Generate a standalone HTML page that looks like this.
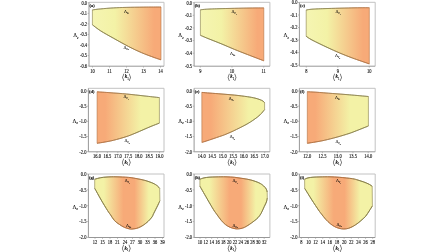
<!DOCTYPE html>
<html lang="en"><head><meta charset="utf-8"><title>Phase diagrams</title>
<style>html,body{margin:0;padding:0;background:#fff;}body{width:448px;height:252px;overflow:hidden;}svg{display:block;}text{font-family:"Liberation Serif","DejaVu Serif",serif;fill:#000;stroke:#000;stroke-width:0.1px;}text.br{font-family:"DejaVu Sans",sans-serif;fill:#666;stroke:none;}</style></head><body>
<svg width="448" height="252" viewBox="0 0 448 252">
<rect width="448" height="252" fill="#fff"/>
<defs>
<linearGradient id="ga" gradientUnits="userSpaceOnUse" x1="92.4" y1="0" x2="161" y2="0"><stop offset="0" stop-color="#f5f5b2"/><stop offset="0.33" stop-color="#f3f2a6"/><stop offset="0.9" stop-color="#f7aa78"/><stop offset="1" stop-color="#f7aa78"/></linearGradient>
<linearGradient id="sa" gradientUnits="userSpaceOnUse" x1="92.4" y1="0" x2="161" y2="0"><stop offset="0" stop-color="#867e48"/><stop offset="0.33" stop-color="#867e48"/><stop offset="0.9" stop-color="#b27040"/><stop offset="1" stop-color="#b27040"/></linearGradient>
<linearGradient id="gb" gradientUnits="userSpaceOnUse" x1="200.4" y1="0" x2="263.8" y2="0"><stop offset="0" stop-color="#f5f5b2"/><stop offset="0.33" stop-color="#f3f2a6"/><stop offset="0.9" stop-color="#f7aa78"/><stop offset="1" stop-color="#f7aa78"/></linearGradient>
<linearGradient id="sb" gradientUnits="userSpaceOnUse" x1="200.4" y1="0" x2="263.8" y2="0"><stop offset="0" stop-color="#867e48"/><stop offset="0.33" stop-color="#867e48"/><stop offset="0.9" stop-color="#b27040"/><stop offset="1" stop-color="#b27040"/></linearGradient>
<linearGradient id="gc" gradientUnits="userSpaceOnUse" x1="306.2" y1="0" x2="369.3" y2="0"><stop offset="0" stop-color="#f5f5b2"/><stop offset="0.33" stop-color="#f3f2a6"/><stop offset="0.9" stop-color="#f7aa78"/><stop offset="1" stop-color="#f7aa78"/></linearGradient>
<linearGradient id="sc" gradientUnits="userSpaceOnUse" x1="306.2" y1="0" x2="369.3" y2="0"><stop offset="0" stop-color="#867e48"/><stop offset="0.33" stop-color="#867e48"/><stop offset="0.9" stop-color="#b27040"/><stop offset="1" stop-color="#b27040"/></linearGradient>
<linearGradient id="gd" gradientUnits="userSpaceOnUse" x1="97.1" y1="0" x2="159.4" y2="0"><stop offset="0" stop-color="#f7aa78"/><stop offset="0.13" stop-color="#f7aa78"/><stop offset="0.7" stop-color="#f3f2a6"/><stop offset="1" stop-color="#f3f2a6"/></linearGradient>
<linearGradient id="sd" gradientUnits="userSpaceOnUse" x1="97.1" y1="0" x2="159.4" y2="0"><stop offset="0" stop-color="#b27040"/><stop offset="0.13" stop-color="#b27040"/><stop offset="0.7" stop-color="#867e48"/><stop offset="1" stop-color="#867e48"/></linearGradient>
<linearGradient id="ge" gradientUnits="userSpaceOnUse" x1="201.9" y1="0" x2="264.6" y2="0"><stop offset="0" stop-color="#f7aa78"/><stop offset="0.14" stop-color="#f7aa78"/><stop offset="0.75" stop-color="#f3f2a6"/><stop offset="1" stop-color="#f3f2a6"/></linearGradient>
<linearGradient id="se" gradientUnits="userSpaceOnUse" x1="201.9" y1="0" x2="264.6" y2="0"><stop offset="0" stop-color="#b27040"/><stop offset="0.14" stop-color="#b27040"/><stop offset="0.75" stop-color="#867e48"/><stop offset="1" stop-color="#867e48"/></linearGradient>
<linearGradient id="gf" gradientUnits="userSpaceOnUse" x1="307.3" y1="0" x2="368.4" y2="0"><stop offset="0" stop-color="#f7aa78"/><stop offset="0.13" stop-color="#f7aa78"/><stop offset="0.7" stop-color="#f3f2a6"/><stop offset="1" stop-color="#f3f2a6"/></linearGradient>
<linearGradient id="sf" gradientUnits="userSpaceOnUse" x1="307.3" y1="0" x2="368.4" y2="0"><stop offset="0" stop-color="#b27040"/><stop offset="0.13" stop-color="#b27040"/><stop offset="0.7" stop-color="#867e48"/><stop offset="1" stop-color="#867e48"/></linearGradient>
<linearGradient id="gg" gradientUnits="userSpaceOnUse" x1="94.7" y1="0" x2="160" y2="0"><stop offset="0" stop-color="#f3f2a6"/><stop offset="0.14" stop-color="#f3f2a6"/><stop offset="0.44" stop-color="#f7aa78"/><stop offset="0.61" stop-color="#f7aa78"/><stop offset="0.83" stop-color="#f3f2a6"/><stop offset="1" stop-color="#f3f2a6"/></linearGradient>
<linearGradient id="sg" gradientUnits="userSpaceOnUse" x1="94.7" y1="0" x2="160" y2="0"><stop offset="0" stop-color="#867e48"/><stop offset="0.14" stop-color="#867e48"/><stop offset="0.44" stop-color="#b27040"/><stop offset="0.61" stop-color="#b27040"/><stop offset="0.83" stop-color="#867e48"/><stop offset="1" stop-color="#867e48"/></linearGradient>
<linearGradient id="gh" gradientUnits="userSpaceOnUse" x1="199.9" y1="0" x2="267.3" y2="0"><stop offset="0" stop-color="#f3f2a6"/><stop offset="0.14" stop-color="#f3f2a6"/><stop offset="0.44" stop-color="#f7aa78"/><stop offset="0.61" stop-color="#f7aa78"/><stop offset="0.83" stop-color="#f3f2a6"/><stop offset="1" stop-color="#f3f2a6"/></linearGradient>
<linearGradient id="sh" gradientUnits="userSpaceOnUse" x1="199.9" y1="0" x2="267.3" y2="0"><stop offset="0" stop-color="#867e48"/><stop offset="0.14" stop-color="#867e48"/><stop offset="0.44" stop-color="#b27040"/><stop offset="0.61" stop-color="#b27040"/><stop offset="0.83" stop-color="#867e48"/><stop offset="1" stop-color="#867e48"/></linearGradient>
<linearGradient id="gi" gradientUnits="userSpaceOnUse" x1="304.6" y1="0" x2="372.4" y2="0"><stop offset="0" stop-color="#f3f2a6"/><stop offset="0.13" stop-color="#f3f2a6"/><stop offset="0.43" stop-color="#f7aa78"/><stop offset="0.59" stop-color="#f7aa78"/><stop offset="0.82" stop-color="#f3f2a6"/><stop offset="1" stop-color="#f3f2a6"/></linearGradient>
<linearGradient id="si" gradientUnits="userSpaceOnUse" x1="304.6" y1="0" x2="372.4" y2="0"><stop offset="0" stop-color="#867e48"/><stop offset="0.13" stop-color="#867e48"/><stop offset="0.43" stop-color="#b27040"/><stop offset="0.59" stop-color="#b27040"/><stop offset="0.82" stop-color="#867e48"/><stop offset="1" stop-color="#867e48"/></linearGradient>
</defs>
<g id="panel-a">
<path d="M92.40,9.90 C93.78,9.73 97.20,9.23 100.70,8.90 C104.20,8.57 109.17,8.15 113.40,7.90 C117.63,7.65 121.02,7.53 126.10,7.40 C131.18,7.27 138.08,7.17 143.90,7.10 C149.72,7.03 158.15,7.02 161.00,7.00 L161.00,59.80 C159.85,59.42 157.37,58.70 154.10,57.50 C150.83,56.30 145.63,54.42 141.40,52.60 C137.17,50.78 133.37,49.00 128.70,46.60 C124.03,44.20 118.07,40.82 113.40,38.20 C108.73,35.58 104.20,33.13 100.70,30.90 C97.20,28.67 93.78,25.82 92.40,24.80 Z" fill="url(#ga)" stroke="url(#sa)" stroke-width="0.6" stroke-linejoin="round"/>
<path d="M92.40,9.90 C93.78,9.73 97.20,9.23 100.70,8.90 C104.20,8.57 109.17,8.15 113.40,7.90 C117.63,7.65 121.02,7.53 126.10,7.40 C131.18,7.27 138.08,7.17 143.90,7.10 C149.72,7.03 158.15,7.02 161.00,7.00" fill="none" stroke="url(#sa)" stroke-width="0.65" stroke-linejoin="round"/>
<path d="M161.00,59.80 C159.85,59.42 157.37,58.70 154.10,57.50 C150.83,56.30 145.63,54.42 141.40,52.60 C137.17,50.78 133.37,49.00 128.70,46.60 C124.03,44.20 118.07,40.82 113.40,38.20 C108.73,35.58 104.20,33.13 100.70,30.90 C97.20,28.67 93.78,25.82 92.40,24.80" fill="none" stroke="url(#sa)" stroke-width="0.8" stroke-linejoin="round"/>
<path d="M89,2.3 H164 V66.2" fill="none" stroke="#c2c2c2" stroke-width="1"/>
<path d="M89,2.3 V66.2 H164" fill="none" stroke="#979797" stroke-width="1"/>
<path d="M92.50,66.2 v1.4 M109.50,66.2 v1.4 M126.50,66.2 v1.4 M143.50,66.2 v1.4 M160.50,66.2 v1.4 M89,2.80 h-1.4 M89,13.35 h-1.4 M89,23.90 h-1.4 M89,34.45 h-1.4 M89,45.00 h-1.4 M89,55.55 h-1.4 M89,66.10 h-1.4" stroke="#979797" stroke-width="0.6" fill="none"/>
<text transform="translate(92.50 72.80) scale(0.8 1)" font-size="5.6" text-anchor="middle">10</text>
<text transform="translate(109.50 72.80) scale(0.8 1)" font-size="5.6" text-anchor="middle">11</text>
<text transform="translate(126.50 72.80) scale(0.8 1)" font-size="5.6" text-anchor="middle">12</text>
<text transform="translate(143.50 72.80) scale(0.8 1)" font-size="5.6" text-anchor="middle">13</text>
<text transform="translate(160.50 72.80) scale(0.8 1)" font-size="5.6" text-anchor="middle">14</text>
<text transform="translate(87.00 4.65) scale(0.8 1)" font-size="5.6" text-anchor="end">0.0</text>
<text transform="translate(87.00 15.20) scale(0.8 1)" font-size="5.6" text-anchor="end">-0.1</text>
<text transform="translate(87.00 25.75) scale(0.8 1)" font-size="5.6" text-anchor="end">-0.2</text>
<text transform="translate(87.00 36.30) scale(0.8 1)" font-size="5.6" text-anchor="end">-0.3</text>
<text transform="translate(87.00 46.85) scale(0.8 1)" font-size="5.6" text-anchor="end">-0.4</text>
<text transform="translate(87.00 57.40) scale(0.8 1)" font-size="5.6" text-anchor="end">-0.5</text>
<text transform="translate(87.00 67.95) scale(0.8 1)" font-size="5.6" text-anchor="end">-0.6</text>
<text class="br" transform="translate(121.30 79.50) scale(1.2 1)" font-size="8.2">⟨</text>
<text transform="translate(125.95 78.30) scale(0.72 1)" font-size="6.8" font-style="italic" font-weight="bold" text-anchor="middle" stroke-width="0.1">k</text>
<text transform="translate(127.95 79.60) scale(0.72 1)" font-size="4.4" text-anchor="middle">1</text>
<text class="br" transform="translate(128.10 79.50) scale(1.2 1)" font-size="8.2">⟩</text>
<text transform="translate(75.80 37.25) scale(0.76 1)" font-size="7.1" text-anchor="middle">Λ<tspan font-size="4.2" dy="1.4" font-style="italic">e</tspan></text>
<text x="89.60" y="7.10" font-size="4.4" font-weight="bold">(a)</text>
<text transform="translate(126.50 12.50) scale(0.85 1)" font-size="4.9" text-anchor="middle">Λ<tspan font-size="3.1" dy="1.0" font-style="italic">c</tspan><tspan font-size="2.2" dy="0.5">1</tspan></text>
<text transform="translate(126.00 48.70) scale(0.85 1)" font-size="4.9" text-anchor="middle">Λ<tspan font-size="3.1" dy="1.0" font-style="italic">c</tspan><tspan font-size="2.2" dy="0.5">2</tspan></text>
</g>
<g id="panel-b">
<path d="M200.40,9.80 C201.43,9.70 203.50,9.38 206.60,9.20 C209.70,9.02 211.77,8.90 219.00,8.70 C226.23,8.50 242.53,8.13 250.00,8.00 C257.47,7.87 261.50,7.92 263.80,7.90 L263.80,60.80 C261.07,59.75 252.25,56.38 247.40,54.50 C242.55,52.62 238.93,51.23 234.70,49.50 C230.47,47.77 226.67,46.02 222.00,44.10 C217.33,42.18 210.30,39.47 206.70,38.00 C203.10,36.53 201.45,35.75 200.40,35.30 Z" fill="url(#gb)" stroke="url(#sb)" stroke-width="0.6" stroke-linejoin="round"/>
<path d="M200.40,9.80 C201.43,9.70 203.50,9.38 206.60,9.20 C209.70,9.02 211.77,8.90 219.00,8.70 C226.23,8.50 242.53,8.13 250.00,8.00 C257.47,7.87 261.50,7.92 263.80,7.90" fill="none" stroke="url(#sb)" stroke-width="0.65" stroke-linejoin="round"/>
<path d="M263.80,60.80 C261.07,59.75 252.25,56.38 247.40,54.50 C242.55,52.62 238.93,51.23 234.70,49.50 C230.47,47.77 226.67,46.02 222.00,44.10 C217.33,42.18 210.30,39.47 206.70,38.00 C203.10,36.53 201.45,35.75 200.40,35.30" fill="none" stroke="url(#sb)" stroke-width="0.8" stroke-linejoin="round"/>
<path d="M194.1,2.3 H269.9 V66.2" fill="none" stroke="#c2c2c2" stroke-width="1"/>
<path d="M194.1,2.3 V66.2 H269.9" fill="none" stroke="#979797" stroke-width="1"/>
<path d="M200.30,66.2 v1.4 M232.00,66.2 v1.4 M263.70,66.2 v1.4 M194.1,2.70 h-1.4 M194.1,15.32 h-1.4 M194.1,27.94 h-1.4 M194.1,40.56 h-1.4 M194.1,53.18 h-1.4 M194.1,65.80 h-1.4" stroke="#979797" stroke-width="0.6" fill="none"/>
<text transform="translate(200.30 72.80) scale(0.8 1)" font-size="5.6" text-anchor="middle">9</text>
<text transform="translate(232.00 72.80) scale(0.8 1)" font-size="5.6" text-anchor="middle">10</text>
<text transform="translate(263.70 72.80) scale(0.8 1)" font-size="5.6" text-anchor="middle">11</text>
<text transform="translate(192.10 4.55) scale(0.8 1)" font-size="5.6" text-anchor="end">0.0</text>
<text transform="translate(192.10 17.17) scale(0.8 1)" font-size="5.6" text-anchor="end">-0.1</text>
<text transform="translate(192.10 29.79) scale(0.8 1)" font-size="5.6" text-anchor="end">-0.2</text>
<text transform="translate(192.10 42.41) scale(0.8 1)" font-size="5.6" text-anchor="end">-0.3</text>
<text transform="translate(192.10 55.03) scale(0.8 1)" font-size="5.6" text-anchor="end">-0.4</text>
<text transform="translate(192.10 67.65) scale(0.8 1)" font-size="5.6" text-anchor="end">-0.5</text>
<text class="br" transform="translate(226.80 79.50) scale(1.2 1)" font-size="8.2">⟨</text>
<text transform="translate(231.45 78.30) scale(0.72 1)" font-size="6.8" font-style="italic" font-weight="bold" text-anchor="middle" stroke-width="0.1">k</text>
<text transform="translate(233.45 79.60) scale(0.72 1)" font-size="4.4" text-anchor="middle">1</text>
<text class="br" transform="translate(233.60 79.50) scale(1.2 1)" font-size="8.2">⟩</text>
<text transform="translate(180.90 37.25) scale(0.76 1)" font-size="7.1" text-anchor="middle">Λ<tspan font-size="4.2" dy="1.4" font-style="italic">e</tspan></text>
<text x="194.70" y="7.10" font-size="4.4" font-weight="bold">(b)</text>
<text transform="translate(234.00 13.30) scale(0.85 1)" font-size="4.9" text-anchor="middle">Λ<tspan font-size="3.1" dy="1.0" font-style="italic">c</tspan><tspan font-size="2.2" dy="0.5">1</tspan></text>
<text transform="translate(232.50 54.90) scale(0.85 1)" font-size="4.9" text-anchor="middle">Λ<tspan font-size="3.1" dy="1.0" font-style="italic">c</tspan><tspan font-size="2.2" dy="0.5">2</tspan></text>
</g>
<g id="panel-c">
<path d="M306.20,10.00 C307.17,9.87 308.87,9.43 312.00,9.20 C315.13,8.97 317.83,8.83 325.00,8.60 C332.17,8.37 347.62,7.95 355.00,7.80 C362.38,7.65 366.92,7.72 369.30,7.70 L369.30,63.90 C366.48,62.92 357.33,59.82 352.40,58.00 C347.47,56.18 343.93,54.78 339.70,53.00 C335.47,51.22 331.62,49.47 327.00,47.30 C322.38,45.13 315.47,41.83 312.00,40.00 C308.53,38.17 307.17,36.92 306.20,36.30 Z" fill="url(#gc)" stroke="url(#sc)" stroke-width="0.6" stroke-linejoin="round"/>
<path d="M306.20,10.00 C307.17,9.87 308.87,9.43 312.00,9.20 C315.13,8.97 317.83,8.83 325.00,8.60 C332.17,8.37 347.62,7.95 355.00,7.80 C362.38,7.65 366.92,7.72 369.30,7.70" fill="none" stroke="url(#sc)" stroke-width="0.65" stroke-linejoin="round"/>
<path d="M369.30,63.90 C366.48,62.92 357.33,59.82 352.40,58.00 C347.47,56.18 343.93,54.78 339.70,53.00 C335.47,51.22 331.62,49.47 327.00,47.30 C322.38,45.13 315.47,41.83 312.00,40.00 C308.53,38.17 307.17,36.92 306.20,36.30" fill="none" stroke="url(#sc)" stroke-width="0.8" stroke-linejoin="round"/>
<path d="M299.4,2.3 H375.2 V66.2" fill="none" stroke="#c2c2c2" stroke-width="1"/>
<path d="M299.4,2.3 V66.2 H375.2" fill="none" stroke="#979797" stroke-width="1"/>
<path d="M306.30,66.2 v1.4 M337.80,66.2 v1.4 M369.30,66.2 v1.4 M299.4,2.50 h-1.4 M299.4,15.02 h-1.4 M299.4,27.54 h-1.4 M299.4,40.06 h-1.4 M299.4,52.58 h-1.4 M299.4,65.10 h-1.4" stroke="#979797" stroke-width="0.6" fill="none"/>
<text transform="translate(306.30 72.80) scale(0.8 1)" font-size="5.6" text-anchor="middle">8</text>
<text transform="translate(337.80 72.80) scale(0.8 1)" font-size="5.6" text-anchor="middle">9</text>
<text transform="translate(369.30 72.80) scale(0.8 1)" font-size="5.6" text-anchor="middle">10</text>
<text transform="translate(297.40 4.35) scale(0.8 1)" font-size="5.6" text-anchor="end">0.0</text>
<text transform="translate(297.40 16.87) scale(0.8 1)" font-size="5.6" text-anchor="end">-0.1</text>
<text transform="translate(297.40 29.39) scale(0.8 1)" font-size="5.6" text-anchor="end">-0.2</text>
<text transform="translate(297.40 41.91) scale(0.8 1)" font-size="5.6" text-anchor="end">-0.3</text>
<text transform="translate(297.40 54.43) scale(0.8 1)" font-size="5.6" text-anchor="end">-0.4</text>
<text transform="translate(297.40 66.95) scale(0.8 1)" font-size="5.6" text-anchor="end">-0.5</text>
<text class="br" transform="translate(332.10 79.50) scale(1.2 1)" font-size="8.2">⟨</text>
<text transform="translate(336.75 78.30) scale(0.72 1)" font-size="6.8" font-style="italic" font-weight="bold" text-anchor="middle" stroke-width="0.1">k</text>
<text transform="translate(338.75 79.60) scale(0.72 1)" font-size="4.4" text-anchor="middle">1</text>
<text class="br" transform="translate(338.90 79.50) scale(1.2 1)" font-size="8.2">⟩</text>
<text transform="translate(286.20 37.25) scale(0.76 1)" font-size="7.1" text-anchor="middle">Λ<tspan font-size="4.2" dy="1.4" font-style="italic">e</tspan></text>
<text x="300.00" y="7.10" font-size="4.4" font-weight="bold">(c)</text>
<text transform="translate(338.00 13.10) scale(0.85 1)" font-size="4.9" text-anchor="middle">Λ<tspan font-size="3.1" dy="1.0" font-style="italic">c</tspan><tspan font-size="2.2" dy="0.5">1</tspan></text>
<text transform="translate(337.50 57.00) scale(0.85 1)" font-size="4.9" text-anchor="middle">Λ<tspan font-size="3.1" dy="1.0" font-style="italic">c</tspan><tspan font-size="2.2" dy="0.5">2</tspan></text>
</g>
<g id="panel-d">
<path d="M97.10,91.80 C99.25,91.95 105.07,92.33 110.00,92.70 C114.93,93.07 121.03,93.47 126.70,94.00 C132.37,94.53 138.55,95.30 144.00,95.90 C149.45,96.50 156.83,97.32 159.40,97.60 L159.40,123.10 C158.00,123.65 153.57,125.35 151.00,126.40 C148.43,127.45 146.67,128.25 144.00,129.40 C141.33,130.55 137.98,132.08 135.00,133.30 C132.02,134.52 129.70,135.53 126.10,136.70 C122.50,137.87 116.92,139.42 113.40,140.30 C109.88,141.18 107.72,141.50 105.00,142.00 C102.28,142.50 98.42,143.08 97.10,143.30 Z" fill="url(#gd)" stroke="url(#sd)" stroke-width="0.6" stroke-linejoin="round"/>
<path d="M97.10,91.80 C99.25,91.95 105.07,92.33 110.00,92.70 C114.93,93.07 121.03,93.47 126.70,94.00 C132.37,94.53 138.55,95.30 144.00,95.90 C149.45,96.50 156.83,97.32 159.40,97.60" fill="none" stroke="url(#sd)" stroke-width="0.7" stroke-linejoin="round"/>
<path d="M159.40,123.10 C158.00,123.65 153.57,125.35 151.00,126.40 C148.43,127.45 146.67,128.25 144.00,129.40 C141.33,130.55 137.98,132.08 135.00,133.30 C132.02,134.52 129.70,135.53 126.10,136.70 C122.50,137.87 116.92,139.42 113.40,140.30 C109.88,141.18 107.72,141.50 105.00,142.00 C102.28,142.50 98.42,143.08 97.10,143.30" fill="none" stroke="url(#sd)" stroke-width="0.8" stroke-linejoin="round"/>
<path d="M88.4,88.3 H164 V151.8" fill="none" stroke="#c2c2c2" stroke-width="1"/>
<path d="M88.4,88.3 V151.8 H164" fill="none" stroke="#979797" stroke-width="1"/>
<path d="M97.00,151.8 v1.4 M107.42,151.8 v1.4 M117.84,151.8 v1.4 M128.26,151.8 v1.4 M138.68,151.8 v1.4 M149.10,151.8 v1.4 M159.52,151.8 v1.4 M88.4,91.00 h-1.4 M88.4,106.18 h-1.4 M88.4,121.36 h-1.4 M88.4,136.54 h-1.4 M88.4,151.72 h-1.4" stroke="#979797" stroke-width="0.6" fill="none"/>
<text transform="translate(97.00 158.40) scale(0.8 1)" font-size="5.6" text-anchor="middle">16.0</text>
<text transform="translate(107.42 158.40) scale(0.8 1)" font-size="5.6" text-anchor="middle">16.5</text>
<text transform="translate(117.84 158.40) scale(0.8 1)" font-size="5.6" text-anchor="middle">17.0</text>
<text transform="translate(128.26 158.40) scale(0.8 1)" font-size="5.6" text-anchor="middle">17.5</text>
<text transform="translate(138.68 158.40) scale(0.8 1)" font-size="5.6" text-anchor="middle">18.0</text>
<text transform="translate(149.10 158.40) scale(0.8 1)" font-size="5.6" text-anchor="middle">18.5</text>
<text transform="translate(159.52 158.40) scale(0.8 1)" font-size="5.6" text-anchor="middle">19.0</text>
<text transform="translate(86.40 92.85) scale(0.8 1)" font-size="5.6" text-anchor="end">0.0</text>
<text transform="translate(86.40 108.03) scale(0.8 1)" font-size="5.6" text-anchor="end">-0.5</text>
<text transform="translate(86.40 123.21) scale(0.8 1)" font-size="5.6" text-anchor="end">-1.0</text>
<text transform="translate(86.40 138.39) scale(0.8 1)" font-size="5.6" text-anchor="end">-1.5</text>
<text transform="translate(86.40 153.57) scale(0.8 1)" font-size="5.6" text-anchor="end">-2.0</text>
<text class="br" transform="translate(121.00 165.10) scale(1.2 1)" font-size="8.2">⟨</text>
<text transform="translate(125.65 163.90) scale(0.72 1)" font-size="6.8" font-style="italic" font-weight="bold" text-anchor="middle" stroke-width="0.1">k</text>
<text transform="translate(127.65 165.20) scale(0.72 1)" font-size="4.4" text-anchor="middle">1</text>
<text class="br" transform="translate(127.80 165.10) scale(1.2 1)" font-size="8.2">⟩</text>
<text transform="translate(75.20 123.05) scale(0.76 1)" font-size="7.1" text-anchor="middle">Λ<tspan font-size="4.2" dy="1.4" font-style="italic">e</tspan></text>
<text x="89.00" y="92.80" font-size="4.4" font-weight="bold">(d)</text>
<text transform="translate(126.00 98.30) scale(0.85 1)" font-size="4.9" text-anchor="middle">Λ<tspan font-size="3.1" dy="1.0" font-style="italic">c</tspan><tspan font-size="2.2" dy="0.5">1</tspan></text>
<text transform="translate(127.00 142.00) scale(0.85 1)" font-size="4.9" text-anchor="middle">Λ<tspan font-size="3.1" dy="1.0" font-style="italic">c</tspan><tspan font-size="2.2" dy="0.5">2</tspan></text>
</g>
<g id="panel-e">
<path d="M201.80,92.40 C203.17,92.52 206.63,92.83 210.00,93.10 C213.37,93.37 217.88,93.67 222.00,94.00 C226.12,94.33 230.47,94.65 234.70,95.10 C238.93,95.55 244.02,96.20 247.40,96.70 C250.78,97.20 252.88,97.60 255.00,98.10 C257.12,98.60 258.77,99.20 260.10,99.70 C261.43,100.20 262.25,100.60 263.00,101.10 C263.75,101.60 264.33,102.43 264.60,102.70 L264.60,109.60 C263.85,110.47 261.87,113.13 260.10,114.80 C258.33,116.47 256.35,117.97 254.00,119.60 C251.65,121.23 249.42,122.72 246.00,124.60 C242.58,126.48 237.08,129.20 233.50,130.90 C229.92,132.60 226.85,133.85 224.50,134.80 C222.15,135.75 222.37,135.58 219.40,136.60 C216.43,137.62 209.62,139.93 206.70,140.90 C203.78,141.87 202.70,142.15 201.90,142.40 L201.9,142.4 Z" fill="url(#ge)" stroke="url(#se)" stroke-width="0.6" stroke-linejoin="round"/>
<path d="M201.80,92.40 C203.17,92.52 206.63,92.83 210.00,93.10 C213.37,93.37 217.88,93.67 222.00,94.00 C226.12,94.33 230.47,94.65 234.70,95.10 C238.93,95.55 244.02,96.20 247.40,96.70 C250.78,97.20 252.88,97.60 255.00,98.10 C257.12,98.60 258.77,99.20 260.10,99.70 C261.43,100.20 262.25,100.60 263.00,101.10 C263.75,101.60 264.33,102.43 264.60,102.70 M264.60,109.60 C263.85,110.47 261.87,113.13 260.10,114.80 C258.33,116.47 256.35,117.97 254.00,119.60 C251.65,121.23 249.42,122.72 246.00,124.60 C242.58,126.48 237.08,129.20 233.50,130.90 C229.92,132.60 226.85,133.85 224.50,134.80 C222.15,135.75 222.37,135.58 219.40,136.60 C216.43,137.62 209.62,139.93 206.70,140.90 C203.78,141.87 202.70,142.15 201.90,142.40" fill="none" stroke="url(#se)" stroke-width="0.8" stroke-linejoin="round"/>
<path d="M194.1,88.3 H269.9 V151.8" fill="none" stroke="#c2c2c2" stroke-width="1"/>
<path d="M194.1,88.3 V151.8 H269.9" fill="none" stroke="#979797" stroke-width="1"/>
<path d="M201.70,151.8 v1.4 M212.20,151.8 v1.4 M222.70,151.8 v1.4 M233.20,151.8 v1.4 M243.70,151.8 v1.4 M254.20,151.8 v1.4 M264.70,151.8 v1.4 M194.1,91.00 h-1.4 M194.1,106.18 h-1.4 M194.1,121.36 h-1.4 M194.1,136.54 h-1.4 M194.1,151.72 h-1.4" stroke="#979797" stroke-width="0.6" fill="none"/>
<text transform="translate(201.70 158.40) scale(0.8 1)" font-size="5.6" text-anchor="middle">14.0</text>
<text transform="translate(212.20 158.40) scale(0.8 1)" font-size="5.6" text-anchor="middle">14.5</text>
<text transform="translate(222.70 158.40) scale(0.8 1)" font-size="5.6" text-anchor="middle">15.0</text>
<text transform="translate(233.20 158.40) scale(0.8 1)" font-size="5.6" text-anchor="middle">15.5</text>
<text transform="translate(243.70 158.40) scale(0.8 1)" font-size="5.6" text-anchor="middle">16.0</text>
<text transform="translate(254.20 158.40) scale(0.8 1)" font-size="5.6" text-anchor="middle">16.5</text>
<text transform="translate(264.70 158.40) scale(0.8 1)" font-size="5.6" text-anchor="middle">17.0</text>
<text transform="translate(192.10 92.85) scale(0.8 1)" font-size="5.6" text-anchor="end">0.0</text>
<text transform="translate(192.10 108.03) scale(0.8 1)" font-size="5.6" text-anchor="end">-0.5</text>
<text transform="translate(192.10 123.21) scale(0.8 1)" font-size="5.6" text-anchor="end">-1.0</text>
<text transform="translate(192.10 138.39) scale(0.8 1)" font-size="5.6" text-anchor="end">-1.5</text>
<text transform="translate(192.10 153.57) scale(0.8 1)" font-size="5.6" text-anchor="end">-2.0</text>
<text class="br" transform="translate(226.80 165.10) scale(1.2 1)" font-size="8.2">⟨</text>
<text transform="translate(231.45 163.90) scale(0.72 1)" font-size="6.8" font-style="italic" font-weight="bold" text-anchor="middle" stroke-width="0.1">k</text>
<text transform="translate(233.45 165.20) scale(0.72 1)" font-size="4.4" text-anchor="middle">1</text>
<text class="br" transform="translate(233.60 165.10) scale(1.2 1)" font-size="8.2">⟩</text>
<text transform="translate(180.90 123.05) scale(0.76 1)" font-size="7.1" text-anchor="middle">Λ<tspan font-size="4.2" dy="1.4" font-style="italic">e</tspan></text>
<text x="194.70" y="92.80" font-size="4.4" font-weight="bold">(e)</text>
<text transform="translate(231.30 99.80) scale(0.85 1)" font-size="4.9" text-anchor="middle">Λ<tspan font-size="3.1" dy="1.0" font-style="italic">c</tspan><tspan font-size="2.2" dy="0.5">1</tspan></text>
<text transform="translate(232.20 138.10) scale(0.85 1)" font-size="4.9" text-anchor="middle">Λ<tspan font-size="3.1" dy="1.0" font-style="italic">c</tspan><tspan font-size="2.2" dy="0.5">2</tspan></text>
</g>
<g id="panel-f">
<path d="M307.30,91.70 C308.75,91.78 311.77,91.90 316.00,92.20 C320.23,92.50 327.15,93.07 332.70,93.50 C338.25,93.93 343.35,94.30 349.30,94.80 C355.25,95.30 365.22,96.22 368.40,96.50 L368.40,126.00 C366.17,126.88 358.23,130.05 355.00,131.30 C351.77,132.55 351.98,132.53 349.00,133.50 C346.02,134.47 341.20,135.97 337.10,137.10 C333.00,138.23 327.92,139.50 324.40,140.30 C320.88,141.10 318.85,141.40 316.00,141.90 C313.15,142.40 308.75,143.07 307.30,143.30 Z" fill="url(#gf)" stroke="url(#sf)" stroke-width="0.6" stroke-linejoin="round"/>
<path d="M307.30,91.70 C308.75,91.78 311.77,91.90 316.00,92.20 C320.23,92.50 327.15,93.07 332.70,93.50 C338.25,93.93 343.35,94.30 349.30,94.80 C355.25,95.30 365.22,96.22 368.40,96.50" fill="none" stroke="url(#sf)" stroke-width="0.7" stroke-linejoin="round"/>
<path d="M368.40,126.00 C366.17,126.88 358.23,130.05 355.00,131.30 C351.77,132.55 351.98,132.53 349.00,133.50 C346.02,134.47 341.20,135.97 337.10,137.10 C333.00,138.23 327.92,139.50 324.40,140.30 C320.88,141.10 318.85,141.40 316.00,141.90 C313.15,142.40 308.75,143.07 307.30,143.30" fill="none" stroke="url(#sf)" stroke-width="0.8" stroke-linejoin="round"/>
<path d="M299.4,88.3 H375.2 V151.8" fill="none" stroke="#c2c2c2" stroke-width="1"/>
<path d="M299.4,88.3 V151.8 H375.2" fill="none" stroke="#979797" stroke-width="1"/>
<path d="M307.20,151.8 v1.4 M322.45,151.8 v1.4 M337.70,151.8 v1.4 M352.95,151.8 v1.4 M368.20,151.8 v1.4 M299.4,91.00 h-1.4 M299.4,106.18 h-1.4 M299.4,121.36 h-1.4 M299.4,136.54 h-1.4 M299.4,151.72 h-1.4" stroke="#979797" stroke-width="0.6" fill="none"/>
<text transform="translate(307.20 158.40) scale(0.8 1)" font-size="5.6" text-anchor="middle">12.0</text>
<text transform="translate(322.45 158.40) scale(0.8 1)" font-size="5.6" text-anchor="middle">12.5</text>
<text transform="translate(337.70 158.40) scale(0.8 1)" font-size="5.6" text-anchor="middle">13.0</text>
<text transform="translate(352.95 158.40) scale(0.8 1)" font-size="5.6" text-anchor="middle">13.5</text>
<text transform="translate(368.20 158.40) scale(0.8 1)" font-size="5.6" text-anchor="middle">14.0</text>
<text transform="translate(297.40 92.85) scale(0.8 1)" font-size="5.6" text-anchor="end">0.0</text>
<text transform="translate(297.40 108.03) scale(0.8 1)" font-size="5.6" text-anchor="end">-0.5</text>
<text transform="translate(297.40 123.21) scale(0.8 1)" font-size="5.6" text-anchor="end">-1.0</text>
<text transform="translate(297.40 138.39) scale(0.8 1)" font-size="5.6" text-anchor="end">-1.5</text>
<text transform="translate(297.40 153.57) scale(0.8 1)" font-size="5.6" text-anchor="end">-2.0</text>
<text class="br" transform="translate(332.10 165.10) scale(1.2 1)" font-size="8.2">⟨</text>
<text transform="translate(336.75 163.90) scale(0.72 1)" font-size="6.8" font-style="italic" font-weight="bold" text-anchor="middle" stroke-width="0.1">k</text>
<text transform="translate(338.75 165.20) scale(0.72 1)" font-size="4.4" text-anchor="middle">1</text>
<text class="br" transform="translate(338.90 165.10) scale(1.2 1)" font-size="8.2">⟩</text>
<text transform="translate(286.20 123.05) scale(0.76 1)" font-size="7.1" text-anchor="middle">Λ<tspan font-size="4.2" dy="1.4" font-style="italic">e</tspan></text>
<text x="300.00" y="92.80" font-size="4.4" font-weight="bold">(f)</text>
<text transform="translate(337.50 98.90) scale(0.85 1)" font-size="4.9" text-anchor="middle">Λ<tspan font-size="3.1" dy="1.0" font-style="italic">c</tspan><tspan font-size="2.2" dy="0.5">1</tspan></text>
<text transform="translate(338.00 143.00) scale(0.85 1)" font-size="4.9" text-anchor="middle">Λ<tspan font-size="3.1" dy="1.0" font-style="italic">c</tspan><tspan font-size="2.2" dy="0.5">2</tspan></text>
</g>
<g id="panel-g">
<path d="M94.70,179.20 C95.70,178.95 98.65,178.07 100.70,177.70 C102.75,177.33 104.45,177.15 107.00,177.00 C109.55,176.85 112.38,176.73 116.00,176.80 C119.62,176.87 125.20,177.08 128.70,177.40 C132.20,177.72 134.30,178.20 137.00,178.70 C139.70,179.20 142.25,179.65 144.90,180.40 C147.55,181.15 150.82,182.28 152.90,183.20 C154.98,184.12 156.27,185.03 157.40,185.90 C158.53,186.77 159.32,187.98 159.70,188.40 L159.90,200.70 C159.55,201.47 158.85,203.13 157.80,205.30 C156.75,207.47 154.57,211.75 153.60,213.70 C152.63,215.65 152.92,215.72 152.00,217.00 C151.08,218.28 149.55,220.03 148.10,221.40 C146.65,222.77 144.88,224.15 143.30,225.20 C141.72,226.25 139.98,227.12 138.60,227.70 C137.22,228.28 136.12,228.47 135.00,228.70 C133.88,228.93 132.90,229.08 131.90,229.10 C130.90,229.12 130.27,229.10 129.00,228.80 C127.73,228.50 125.88,228.02 124.30,227.30 C122.72,226.58 121.13,225.62 119.50,224.50 C117.87,223.38 115.98,222.20 114.50,220.60 C113.02,219.00 111.75,216.57 110.60,214.90 C109.45,213.23 109.17,213.08 107.60,210.60 C106.03,208.12 103.35,203.72 101.20,200.00 C99.05,196.28 95.78,190.25 94.70,188.30 L94.7,188.3 Z" fill="url(#gg)" stroke="url(#sg)" stroke-width="0.6" stroke-linejoin="round"/>
<path d="M94.70,179.20 C95.70,178.95 98.65,178.07 100.70,177.70 C102.75,177.33 104.45,177.15 107.00,177.00 C109.55,176.85 112.38,176.73 116.00,176.80 C119.62,176.87 125.20,177.08 128.70,177.40 C132.20,177.72 134.30,178.20 137.00,178.70 C139.70,179.20 142.25,179.65 144.90,180.40 C147.55,181.15 150.82,182.28 152.90,183.20 C154.98,184.12 156.27,185.03 157.40,185.90 C158.53,186.77 159.32,187.98 159.70,188.40 M159.90,200.70 C159.55,201.47 158.85,203.13 157.80,205.30 C156.75,207.47 154.57,211.75 153.60,213.70 C152.63,215.65 152.92,215.72 152.00,217.00 C151.08,218.28 149.55,220.03 148.10,221.40 C146.65,222.77 144.88,224.15 143.30,225.20 C141.72,226.25 139.98,227.12 138.60,227.70 C137.22,228.28 136.12,228.47 135.00,228.70 C133.88,228.93 132.90,229.08 131.90,229.10 C130.90,229.12 130.27,229.10 129.00,228.80 C127.73,228.50 125.88,228.02 124.30,227.30 C122.72,226.58 121.13,225.62 119.50,224.50 C117.87,223.38 115.98,222.20 114.50,220.60 C113.02,219.00 111.75,216.57 110.60,214.90 C109.45,213.23 109.17,213.08 107.60,210.60 C106.03,208.12 103.35,203.72 101.20,200.00 C99.05,196.28 95.78,190.25 94.70,188.30" fill="none" stroke="url(#sg)" stroke-width="0.95" stroke-linejoin="round"/>
<path d="M88.4,174 H164 V237.5" fill="none" stroke="#c2c2c2" stroke-width="1"/>
<path d="M88.4,174 V237.5 H164" fill="none" stroke="#979797" stroke-width="1"/>
<path d="M95.00,237.5 v1.4 M102.50,237.5 v1.4 M110.00,237.5 v1.4 M117.50,237.5 v1.4 M125.00,237.5 v1.4 M132.50,237.5 v1.4 M140.00,237.5 v1.4 M147.50,237.5 v1.4 M155.00,237.5 v1.4 M162.50,237.5 v1.4 M88.4,174.00 h-1.4 M88.4,189.85 h-1.4 M88.4,205.70 h-1.4 M88.4,221.55 h-1.4 M88.4,237.40 h-1.4" stroke="#979797" stroke-width="0.6" fill="none"/>
<text transform="translate(95.00 244.10) scale(0.8 1)" font-size="5.6" text-anchor="middle">12</text>
<text transform="translate(102.50 244.10) scale(0.8 1)" font-size="5.6" text-anchor="middle">15</text>
<text transform="translate(110.00 244.10) scale(0.8 1)" font-size="5.6" text-anchor="middle">18</text>
<text transform="translate(117.50 244.10) scale(0.8 1)" font-size="5.6" text-anchor="middle">21</text>
<text transform="translate(125.00 244.10) scale(0.8 1)" font-size="5.6" text-anchor="middle">24</text>
<text transform="translate(132.50 244.10) scale(0.8 1)" font-size="5.6" text-anchor="middle">27</text>
<text transform="translate(140.00 244.10) scale(0.8 1)" font-size="5.6" text-anchor="middle">30</text>
<text transform="translate(147.50 244.10) scale(0.8 1)" font-size="5.6" text-anchor="middle">33</text>
<text transform="translate(155.00 244.10) scale(0.8 1)" font-size="5.6" text-anchor="middle">36</text>
<text transform="translate(162.50 244.10) scale(0.8 1)" font-size="5.6" text-anchor="middle">39</text>
<text transform="translate(86.40 175.85) scale(0.8 1)" font-size="5.6" text-anchor="end">0.0</text>
<text transform="translate(86.40 191.70) scale(0.8 1)" font-size="5.6" text-anchor="end">-0.5</text>
<text transform="translate(86.40 207.55) scale(0.8 1)" font-size="5.6" text-anchor="end">-1.0</text>
<text transform="translate(86.40 223.40) scale(0.8 1)" font-size="5.6" text-anchor="end">-1.5</text>
<text transform="translate(86.40 239.25) scale(0.8 1)" font-size="5.6" text-anchor="end">-2.0</text>
<text class="br" transform="translate(121.00 250.80) scale(1.2 1)" font-size="8.2">⟨</text>
<text transform="translate(125.65 249.60) scale(0.72 1)" font-size="6.8" font-style="italic" font-weight="bold" text-anchor="middle" stroke-width="0.1">k</text>
<text transform="translate(127.65 250.90) scale(0.72 1)" font-size="4.4" text-anchor="middle">1</text>
<text class="br" transform="translate(127.80 250.80) scale(1.2 1)" font-size="8.2">⟩</text>
<text transform="translate(75.20 208.75) scale(0.76 1)" font-size="7.1" text-anchor="middle">Λ<tspan font-size="4.2" dy="1.4" font-style="italic">e</tspan></text>
<text x="89.00" y="178.80" font-size="4.4" font-weight="bold">(g)</text>
<text transform="translate(127.20 182.00) scale(0.85 1)" font-size="4.9" text-anchor="middle">Λ<tspan font-size="3.1" dy="1.0" font-style="italic">c</tspan><tspan font-size="2.2" dy="0.5">1</tspan></text>
<text transform="translate(128.50 226.50) scale(0.85 1)" font-size="4.9" text-anchor="middle">Λ<tspan font-size="3.1" dy="1.0" font-style="italic">c</tspan><tspan font-size="2.2" dy="0.5">2</tspan></text>
</g>
<g id="panel-h">
<path d="M199.90,179.20 C200.58,178.98 202.48,178.23 204.00,177.90 C205.52,177.57 207.00,177.37 209.00,177.20 C211.00,177.03 213.17,176.97 216.00,176.90 C218.83,176.83 222.88,176.73 226.00,176.80 C229.12,176.87 231.87,177.02 234.70,177.30 C237.53,177.58 240.30,178.05 243.00,178.50 C245.70,178.95 248.25,179.28 250.90,180.00 C253.55,180.72 256.78,181.82 258.90,182.80 C261.02,183.78 262.37,184.85 263.60,185.90 C264.83,186.95 265.70,188.08 266.30,189.10 C266.90,190.12 267.05,191.52 267.20,192.00 L267.30,198.00 C267.15,198.67 266.88,200.62 266.40,202.00 C265.92,203.38 265.30,204.38 264.40,206.30 C263.50,208.22 262.07,211.60 261.00,213.50 C259.93,215.40 259.15,216.45 258.00,217.70 C256.85,218.95 255.55,219.87 254.10,221.00 C252.65,222.13 250.88,223.45 249.30,224.50 C247.72,225.55 245.98,226.63 244.60,227.30 C243.22,227.97 242.20,228.23 241.00,228.50 C239.80,228.77 238.40,228.87 237.40,228.90 C236.40,228.93 236.18,228.95 235.00,228.70 C233.82,228.45 231.88,228.08 230.30,227.40 C228.72,226.72 227.02,225.78 225.50,224.60 C223.98,223.42 222.67,222.03 221.20,220.30 C219.73,218.57 217.97,215.95 216.70,214.20 C215.43,212.45 215.08,212.17 213.60,209.80 C212.12,207.43 210.08,203.93 207.80,200.00 C205.52,196.07 201.22,188.50 199.90,186.20 L199.9,186.2 Z" fill="url(#gh)" stroke="url(#sh)" stroke-width="0.6" stroke-linejoin="round"/>
<path d="M199.90,179.20 C200.58,178.98 202.48,178.23 204.00,177.90 C205.52,177.57 207.00,177.37 209.00,177.20 C211.00,177.03 213.17,176.97 216.00,176.90 C218.83,176.83 222.88,176.73 226.00,176.80 C229.12,176.87 231.87,177.02 234.70,177.30 C237.53,177.58 240.30,178.05 243.00,178.50 C245.70,178.95 248.25,179.28 250.90,180.00 C253.55,180.72 256.78,181.82 258.90,182.80 C261.02,183.78 262.37,184.85 263.60,185.90 C264.83,186.95 265.70,188.08 266.30,189.10 C266.90,190.12 267.05,191.52 267.20,192.00 M267.30,198.00 C267.15,198.67 266.88,200.62 266.40,202.00 C265.92,203.38 265.30,204.38 264.40,206.30 C263.50,208.22 262.07,211.60 261.00,213.50 C259.93,215.40 259.15,216.45 258.00,217.70 C256.85,218.95 255.55,219.87 254.10,221.00 C252.65,222.13 250.88,223.45 249.30,224.50 C247.72,225.55 245.98,226.63 244.60,227.30 C243.22,227.97 242.20,228.23 241.00,228.50 C239.80,228.77 238.40,228.87 237.40,228.90 C236.40,228.93 236.18,228.95 235.00,228.70 C233.82,228.45 231.88,228.08 230.30,227.40 C228.72,226.72 227.02,225.78 225.50,224.60 C223.98,223.42 222.67,222.03 221.20,220.30 C219.73,218.57 217.97,215.95 216.70,214.20 C215.43,212.45 215.08,212.17 213.60,209.80 C212.12,207.43 210.08,203.93 207.80,200.00 C205.52,196.07 201.22,188.50 199.90,186.20" fill="none" stroke="url(#sh)" stroke-width="0.95" stroke-linejoin="round"/>
<path d="M194.1,174 H269.9 V237.5" fill="none" stroke="#c2c2c2" stroke-width="1"/>
<path d="M194.1,174 V237.5 H269.9" fill="none" stroke="#979797" stroke-width="1"/>
<path d="M200.00,237.5 v1.4 M205.84,237.5 v1.4 M211.67,237.5 v1.4 M217.50,237.5 v1.4 M223.34,237.5 v1.4 M229.18,237.5 v1.4 M235.01,237.5 v1.4 M240.84,237.5 v1.4 M246.68,237.5 v1.4 M252.51,237.5 v1.4 M258.35,237.5 v1.4 M264.19,237.5 v1.4 M194.1,174.00 h-1.4 M194.1,189.85 h-1.4 M194.1,205.70 h-1.4 M194.1,221.55 h-1.4 M194.1,237.40 h-1.4" stroke="#979797" stroke-width="0.6" fill="none"/>
<text transform="translate(200.00 244.10) scale(0.8 1)" font-size="5.6" text-anchor="middle">10</text>
<text transform="translate(205.84 244.10) scale(0.8 1)" font-size="5.6" text-anchor="middle">12</text>
<text transform="translate(211.67 244.10) scale(0.8 1)" font-size="5.6" text-anchor="middle">14</text>
<text transform="translate(217.50 244.10) scale(0.8 1)" font-size="5.6" text-anchor="middle">16</text>
<text transform="translate(223.34 244.10) scale(0.8 1)" font-size="5.6" text-anchor="middle">18</text>
<text transform="translate(229.18 244.10) scale(0.8 1)" font-size="5.6" text-anchor="middle">20</text>
<text transform="translate(235.01 244.10) scale(0.8 1)" font-size="5.6" text-anchor="middle">22</text>
<text transform="translate(240.84 244.10) scale(0.8 1)" font-size="5.6" text-anchor="middle">24</text>
<text transform="translate(246.68 244.10) scale(0.8 1)" font-size="5.6" text-anchor="middle">26</text>
<text transform="translate(252.51 244.10) scale(0.8 1)" font-size="5.6" text-anchor="middle">28</text>
<text transform="translate(258.35 244.10) scale(0.8 1)" font-size="5.6" text-anchor="middle">30</text>
<text transform="translate(264.19 244.10) scale(0.8 1)" font-size="5.6" text-anchor="middle">32</text>
<text transform="translate(192.10 175.85) scale(0.8 1)" font-size="5.6" text-anchor="end">0.0</text>
<text transform="translate(192.10 191.70) scale(0.8 1)" font-size="5.6" text-anchor="end">-0.5</text>
<text transform="translate(192.10 207.55) scale(0.8 1)" font-size="5.6" text-anchor="end">-1.0</text>
<text transform="translate(192.10 223.40) scale(0.8 1)" font-size="5.6" text-anchor="end">-1.5</text>
<text transform="translate(192.10 239.25) scale(0.8 1)" font-size="5.6" text-anchor="end">-2.0</text>
<text class="br" transform="translate(226.80 250.80) scale(1.2 1)" font-size="8.2">⟨</text>
<text transform="translate(231.45 249.60) scale(0.72 1)" font-size="6.8" font-style="italic" font-weight="bold" text-anchor="middle" stroke-width="0.1">k</text>
<text transform="translate(233.45 250.90) scale(0.72 1)" font-size="4.4" text-anchor="middle">1</text>
<text class="br" transform="translate(233.60 250.80) scale(1.2 1)" font-size="8.2">⟩</text>
<text transform="translate(180.90 208.75) scale(0.76 1)" font-size="7.1" text-anchor="middle">Λ<tspan font-size="4.2" dy="1.4" font-style="italic">e</tspan></text>
<text x="194.70" y="178.80" font-size="4.4" font-weight="bold">(h)</text>
<text transform="translate(235.00 182.20) scale(0.85 1)" font-size="4.9" text-anchor="middle">Λ<tspan font-size="3.1" dy="1.0" font-style="italic">c</tspan><tspan font-size="2.2" dy="0.5">1</tspan></text>
<text transform="translate(235.00 226.80) scale(0.85 1)" font-size="4.9" text-anchor="middle">Λ<tspan font-size="3.1" dy="1.0" font-style="italic">c</tspan><tspan font-size="2.2" dy="0.5">2</tspan></text>
</g>
<g id="panel-i">
<path d="M304.60,179.20 C305.17,178.98 306.60,178.23 308.00,177.90 C309.40,177.57 311.00,177.37 313.00,177.20 C315.00,177.03 317.17,176.97 320.00,176.90 C322.83,176.83 326.72,176.73 330.00,176.80 C333.28,176.87 335.97,176.98 339.70,177.30 C343.43,177.62 349.35,178.23 352.40,178.70 C355.45,179.17 356.08,179.55 358.00,180.10 C359.92,180.65 362.00,181.28 363.90,182.00 C365.80,182.72 368.02,183.68 369.40,184.40 C370.78,185.12 371.73,185.98 372.20,186.30 L372.40,205.90 C371.87,206.75 370.32,209.28 369.20,211.00 C368.08,212.72 366.90,214.75 365.70,216.20 C364.50,217.65 363.27,218.57 362.00,219.70 C360.73,220.83 359.55,221.92 358.10,223.00 C356.65,224.08 354.88,225.32 353.30,226.20 C351.72,227.08 350.18,227.83 348.60,228.30 C347.02,228.77 345.40,229.00 343.80,229.00 C342.20,229.00 340.53,228.70 339.00,228.30 C337.47,227.90 336.07,227.38 334.60,226.60 C333.13,225.82 331.68,224.82 330.20,223.60 C328.72,222.38 327.13,220.87 325.70,219.30 C324.27,217.73 322.80,215.75 321.60,214.20 C320.40,212.65 320.12,212.37 318.50,210.00 C316.88,207.63 314.20,203.60 311.90,200.00 C309.60,196.40 305.90,190.33 304.70,188.40 L304.7,188.4 Z" fill="url(#gi)" stroke="url(#si)" stroke-width="0.6" stroke-linejoin="round"/>
<path d="M304.60,179.20 C305.17,178.98 306.60,178.23 308.00,177.90 C309.40,177.57 311.00,177.37 313.00,177.20 C315.00,177.03 317.17,176.97 320.00,176.90 C322.83,176.83 326.72,176.73 330.00,176.80 C333.28,176.87 335.97,176.98 339.70,177.30 C343.43,177.62 349.35,178.23 352.40,178.70 C355.45,179.17 356.08,179.55 358.00,180.10 C359.92,180.65 362.00,181.28 363.90,182.00 C365.80,182.72 368.02,183.68 369.40,184.40 C370.78,185.12 371.73,185.98 372.20,186.30 M372.40,205.90 C371.87,206.75 370.32,209.28 369.20,211.00 C368.08,212.72 366.90,214.75 365.70,216.20 C364.50,217.65 363.27,218.57 362.00,219.70 C360.73,220.83 359.55,221.92 358.10,223.00 C356.65,224.08 354.88,225.32 353.30,226.20 C351.72,227.08 350.18,227.83 348.60,228.30 C347.02,228.77 345.40,229.00 343.80,229.00 C342.20,229.00 340.53,228.70 339.00,228.30 C337.47,227.90 336.07,227.38 334.60,226.60 C333.13,225.82 331.68,224.82 330.20,223.60 C328.72,222.38 327.13,220.87 325.70,219.30 C324.27,217.73 322.80,215.75 321.60,214.20 C320.40,212.65 320.12,212.37 318.50,210.00 C316.88,207.63 314.20,203.60 311.90,200.00 C309.60,196.40 305.90,190.33 304.70,188.40" fill="none" stroke="url(#si)" stroke-width="0.95" stroke-linejoin="round"/>
<path d="M299.4,174 H375.2 V237.5" fill="none" stroke="#c2c2c2" stroke-width="1"/>
<path d="M299.4,174 V237.5 H375.2" fill="none" stroke="#979797" stroke-width="1"/>
<path d="M301.30,237.5 v1.4 M308.44,237.5 v1.4 M315.58,237.5 v1.4 M322.72,237.5 v1.4 M329.86,237.5 v1.4 M337.00,237.5 v1.4 M344.14,237.5 v1.4 M351.28,237.5 v1.4 M358.42,237.5 v1.4 M365.56,237.5 v1.4 M372.70,237.5 v1.4 M299.4,174.00 h-1.4 M299.4,189.85 h-1.4 M299.4,205.70 h-1.4 M299.4,221.55 h-1.4 M299.4,237.40 h-1.4" stroke="#979797" stroke-width="0.6" fill="none"/>
<text transform="translate(301.30 244.10) scale(0.8 1)" font-size="5.6" text-anchor="middle">8</text>
<text transform="translate(308.44 244.10) scale(0.8 1)" font-size="5.6" text-anchor="middle">10</text>
<text transform="translate(315.58 244.10) scale(0.8 1)" font-size="5.6" text-anchor="middle">12</text>
<text transform="translate(322.72 244.10) scale(0.8 1)" font-size="5.6" text-anchor="middle">14</text>
<text transform="translate(329.86 244.10) scale(0.8 1)" font-size="5.6" text-anchor="middle">16</text>
<text transform="translate(337.00 244.10) scale(0.8 1)" font-size="5.6" text-anchor="middle">18</text>
<text transform="translate(344.14 244.10) scale(0.8 1)" font-size="5.6" text-anchor="middle">20</text>
<text transform="translate(351.28 244.10) scale(0.8 1)" font-size="5.6" text-anchor="middle">22</text>
<text transform="translate(358.42 244.10) scale(0.8 1)" font-size="5.6" text-anchor="middle">24</text>
<text transform="translate(365.56 244.10) scale(0.8 1)" font-size="5.6" text-anchor="middle">26</text>
<text transform="translate(372.70 244.10) scale(0.8 1)" font-size="5.6" text-anchor="middle">28</text>
<text transform="translate(297.40 175.85) scale(0.8 1)" font-size="5.6" text-anchor="end">0.0</text>
<text transform="translate(297.40 191.70) scale(0.8 1)" font-size="5.6" text-anchor="end">-0.5</text>
<text transform="translate(297.40 207.55) scale(0.8 1)" font-size="5.6" text-anchor="end">-1.0</text>
<text transform="translate(297.40 223.40) scale(0.8 1)" font-size="5.6" text-anchor="end">-1.5</text>
<text transform="translate(297.40 239.25) scale(0.8 1)" font-size="5.6" text-anchor="end">-2.0</text>
<text class="br" transform="translate(332.10 250.80) scale(1.2 1)" font-size="8.2">⟨</text>
<text transform="translate(336.75 249.60) scale(0.72 1)" font-size="6.8" font-style="italic" font-weight="bold" text-anchor="middle" stroke-width="0.1">k</text>
<text transform="translate(338.75 250.90) scale(0.72 1)" font-size="4.4" text-anchor="middle">1</text>
<text class="br" transform="translate(338.90 250.80) scale(1.2 1)" font-size="8.2">⟩</text>
<text transform="translate(286.20 208.75) scale(0.76 1)" font-size="7.1" text-anchor="middle">Λ<tspan font-size="4.2" dy="1.4" font-style="italic">e</tspan></text>
<text x="300.00" y="178.80" font-size="4.4" font-weight="bold">(i)</text>
<text transform="translate(338.50 182.20) scale(0.85 1)" font-size="4.9" text-anchor="middle">Λ<tspan font-size="3.1" dy="1.0" font-style="italic">c</tspan><tspan font-size="2.2" dy="0.5">1</tspan></text>
<text transform="translate(339.00 225.90) scale(0.85 1)" font-size="4.9" text-anchor="middle">Λ<tspan font-size="3.1" dy="1.0" font-style="italic">c</tspan><tspan font-size="2.2" dy="0.5">2</tspan></text>
</g>
</svg></body></html>
